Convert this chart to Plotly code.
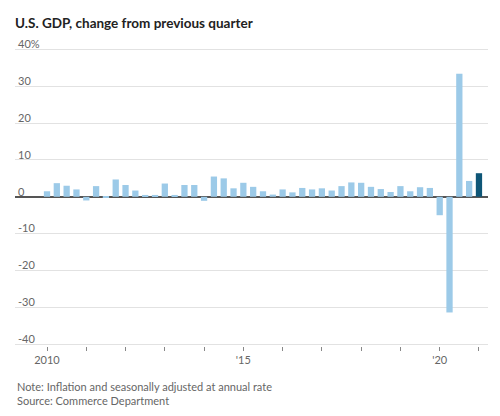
import plotly.graph_objects as go

# quarterly real GDP change, annual rate, 2010 Q1 .. 2021 Q1
years = [2010] * 4 + [2011] * 4 + [2012] * 4 + [2013] * 4 + [2014] * 4 + \
        [2015] * 4 + [2016] * 4 + [2017] * 4 + [2018] * 4 + [2019] * 4 + \
        [2020] * 4 + [2021]
quarters = [1, 2, 3, 4] * 11 + [1]
gdp_change = [1.5, 3.7, 3.0, 2.0,
              -1.0, 2.9, -0.1, 4.7,
              3.2, 1.7, 0.5, 0.5,
              3.6, 0.5, 3.2, 3.2,
              -1.1, 5.5, 5.0, 2.3,
              3.8, 2.7, 1.5, 0.6,
              2.0, 1.2, 2.4, 2.0,
              2.3, 1.7, 2.9, 3.9,
              3.8, 2.7, 2.1, 1.3,
              2.9, 1.5, 2.6, 2.4,
              -5.0, -31.4, 33.4, 4.3,
              6.4]

year_ticks = list(range(2010, 2022))
year_labels = ['2010', '', '', '', '', "'15", '', '', '', '', "'20", '']
y_ticks = [-40, -30, -20, -10, 0, 10, 20, 30, 40]
y_labels = ['-40', '-30', '-20', '-10', '0', '10', '20', '30', '40%']

x = [y + (q - 1) / 4 for y, q in zip(years, quarters)]
colors = ['#9ccae8'] * (len(x) - 1) + ['#0e5677']

fig = go.Figure(go.Bar(x=x, y=gdp_change, width=0.16,
                       marker=dict(color=colors, line_width=0)))

fig.update_layout(
    width=500, height=416,
    margin=dict(l=15, r=12, t=31, b=70),
    paper_bgcolor='white', plot_bgcolor='white',
    font=dict(family='Lato', color='#666666', size=11),
    showlegend=False,
    title=dict(text='U.S. GDP, change from previous quarter',
               x=0, xref='paper', xanchor='left', y=0.945, yanchor='middle',
               font=dict(family='Lato', size=13.5, color='#222222', weight='bold')),
)

fig.update_xaxes(range=[2009.185, 2021.23], tickvals=year_ticks, ticktext=year_labels,
                 ticks='outside', ticklen=4, tickcolor='#888888', showgrid=False,
                 showline=False, zeroline=False, tickfont=dict(size=11, color='#666666'))

fig.update_yaxes(range=[-40.5, 45], tickvals=y_ticks, ticktext=y_labels,
                 ticklabelposition='inside', ticklabelshift=-5,
                 showgrid=True, gridcolor='#e2e2e2', gridwidth=1,
                 zeroline=True, zerolinecolor='#555555', zerolinewidth=1.5,
                 showline=False, tickfont=dict(size=11, color='#666666'))

fig.add_annotation(text='Note: Inflation and seasonally adjusted at annual rate<br>Source: Commerce Department',
                   xref='paper', yref='paper', x=0, y=-0.1, xanchor='left', yanchor='top',
                   align='left', showarrow=False,
                   font=dict(family='Lato', size=11, color='#666666'))

fig.write_html("out.html", config={'displayModeBar': False},
               post_script="document.body.style.margin='0';")
